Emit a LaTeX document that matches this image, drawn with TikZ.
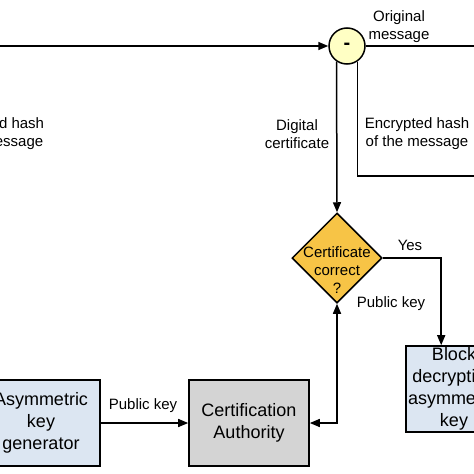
\documentclass[tikz,border=0pt]{standalone}
\usepackage{fontspec}
\setmainfont{Liberation Sans}
\usetikzlibrary{positioning}
\usetikzlibrary{arrows.meta}
\usetikzlibrary{shapes.geometric}
\definecolor{boxBlue}{HTML}{DCE6F2}
\definecolor{caGray}{HTML}{D4D4D4}
\definecolor{checkGold}{HTML}{F7C446}
\definecolor{sumYellow}{HTML}{FFFFC4}
\tikzset{
   linePlain/.style={draw=black, line width=1.5pt},
   lineWithArrow/.style={linePlain, -{Triangle[length=10pt,width=8pt]}},
   lineBothArrows/.style={linePlain, {Triangle[length=10pt,width=8pt]}-{Triangle[length=10pt,width=8pt]}},
   labelText/.style={align=center, font=\fontsize{15}{18}\selectfont, inner sep=0pt},
   blockBox/.style={draw=black, line width=1.6pt, fill=boxBlue, align=center, font=\fontsize{18}{22}\selectfont, minimum height=86pt, inner sep=0pt},
   caBox/.style={blockBox, fill=caGray},
   checkVertex/.style={draw=black, line width=1.5pt, shape=diamond, fill=checkGold, minimum width=90pt, minimum height=90pt, inner sep=0pt},
   sumVertex/.style={draw=black, line width=1.5pt, shape=circle, fill=sumYellow, minimum size=36pt, inner sep=0pt, font=\fontsize{20}{20}\selectfont\bfseries},
}

\begin{document}
\begin{tikzpicture}[x=1pt,y=-1pt]
  					\useasboundingbox (0,0) rectangle (474,474);
  					\clip (0,0) rectangle (474,474);
  					%
  					\node[sumVertex] (sumNode) at (347,46) {-};
  					\coordinate (msgIn) at (-10,46);
  					\coordinate (msgOut) at (490,46);
  					\coordinate (hashOut) at (490,176);
  					\draw[lineWithArrow] (msgIn) -- (sumNode);
  					\draw[linePlain] (sumNode) -- (msgOut);
  					%
  					\node[checkVertex] (certCheck) at (337,258) {};
  					\node[labelText] (certCheckText) at (337,270) {Certificate\\correct\\?};
  					\draw[lineWithArrow] (sumNode.236) -- (certCheck.north);
  					\draw[linePlain] (sumNode.304) |- (hashOut);
  					%
  					\node[caBox, minimum width=120pt] (certAuthority) at (249,423) {Certification\\Authority};
  					\node[blockBox, minimum width=118pt] (keyGenerator) at (41,423) {Asymmetric\\key\\generator};
  					\node[blockBox, minimum width=96pt] (blockDecrypt) at (454,389) {Block\\decryption\\asymmetric\\key};
  					%
  					\draw[lineWithArrow] (keyGenerator) -- (certAuthority);
  					\draw[lineBothArrows] (certCheck.south) |- (certAuthority.east);
  					\draw[lineWithArrow] (certCheck.east) -| ([xshift=36pt]blockDecrypt.north west);
  					%
  					\node[labelText] (origLabel) at (399,27) {Original\\message};
  					\node[labelText] (certLabel) at (297,134) {Digital\\certificate};
  					\node[labelText] (hashLabel) at (417,134) {Encrypted hash\\of the message};
  					\node[labelText] (hashLabelLeft) at (-8,134) {Encrypted hash\\of the message};
  					\node[labelText] (yesLabel) at (410,245) {Yes};
  					\node[labelText] (keyLabelRight) at (391,304) {Public key};
  					\node[labelText] (keyLabelLeft) at (143,406) {Public key};
  				\end{tikzpicture}
\end{document}
